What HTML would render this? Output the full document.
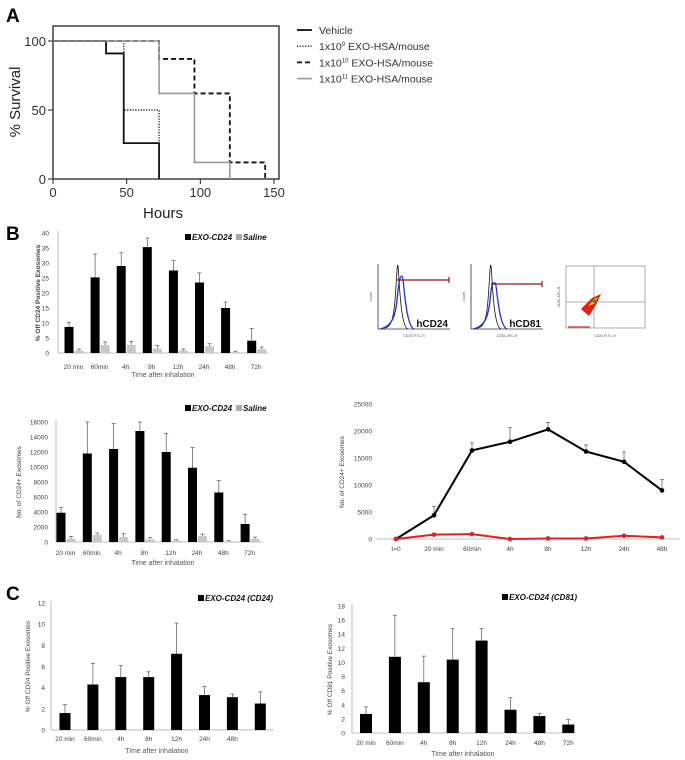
<!DOCTYPE html>
<html><head><meta charset="utf-8"><style>
html,body{margin:0;padding:0;background:#fff;}
svg{display:block;font-family:"Liberation Sans",sans-serif;}
</style></head><body>
<svg id="fig" width="685" height="760" viewBox="0 0 685 760" xmlns="http://www.w3.org/2000/svg">
<text x="6" y="22" font-size="19" font-weight="bold">A</text>
<text x="6" y="240" font-size="19" font-weight="bold">B</text>
<text x="6" y="600" font-size="19" font-weight="bold">C</text>
<g id="gA"></g>
<g id="gB1"></g>
<g id="gB2"></g>
<g id="gB3"></g>
<g id="gC1"></g>
<g id="gC2"></g>
<g id="gFlow"></g>
</svg>
<script>
// Panel A survival data
const survVehicleT = [0,36,48,72];
const survVehicleV = [100,91,26,0];
const surv9T = [0,48,72];
const surv9V = [100,50,0];
const surv10T = [0,72,96,120,144];
const surv10V = [100,87,62,12,0];
const surv11T = [0,72,96,120];
const surv11V = [100,62,12,0];
const survTicksX = [0,50,100,150];
const survTicksY = [0,50,100];

// Panel B charts
const timeCats8 = ["20 min","60min","4h","8h","12h","24h","48h","72h"];
const b1Exo = [8.7,25.2,29,35.3,27.5,23.5,15,4.1];
const b1ExoErr = [1.5,7.8,4.4,3,3.3,3.2,2,4.1];
const b1Sal = [0.8,2.7,2.7,1.5,0.8,2.3,0.3,1.3];
const b1SalErr = [0.5,1,1.2,1,0.5,0.8,0.3,0.7];
const b1Ticks = [0,5,10,15,20,25,30,35,40];
const b2Exo = [3900,11800,12400,14800,12000,9900,6600,2400];
const b2ExoErr = [700,4200,3400,1200,2500,2700,1600,1300];
const b2Sal = [450,950,650,350,200,800,100,400];
const b2SalErr = [300,250,450,250,100,250,100,250];
const b2Ticks = [0,2000,4000,6000,8000,10000,12000,14000,16000];
const lineCats = ["t=0","20 min","60min","4h","8h","12h","24h","48h"];
const lineExo = [0,4400,16400,18000,20300,16200,14300,9000];
const lineExoErr = [0,1600,1400,2600,1300,1200,1800,2000];
const lineSal = [0,800,900,0,100,100,600,300];
const lineTicks = [0,5000,10000,15000,20000,25000];
// Panel C
const c1Cats = ["20 min","60min","4h","8h","12h","24h","48h",""];
const c1Vals = [1.6,4.3,5,5,7.2,3.3,3.1,2.5];
const c1Err = [0.8,2,1.1,0.5,2.9,0.8,0.3,1.1];
const c1Ticks = [0,2,4,6,8,10,12];
const c2Vals = [2.7,10.8,7.2,10.4,13.1,3.3,2.4,1.2];
const c2Err = [1,5.9,3.7,4.4,1.7,1.7,0.4,0.7];
const c2Ticks = [0,2,4,6,8,10,12,14,16,18];

const NS="http://www.w3.org/2000/svg";
function mk(parent,tag,attrs,text){const e=document.createElementNS(NS,tag);for(const k in attrs)e.setAttribute(k,attrs[k]);if(text!==undefined)e.textContent=text;parent.appendChild(e);return e;}

// ---------- Panel A ----------
(function(){
 const g=document.getElementById('gA');
 const x=v=>53+v*(274-53)/150, y=v=>179-v*(179-41)/100;
 mk(g,'rect',{x:53,y:26,width:226,height:153,fill:'none',stroke:'#222','stroke-width':1.3});
 survTicksX.forEach(t=>{mk(g,'line',{x1:x(t),x2:x(t),y1:179,y2:184,stroke:'#222'});
  const e=mk(g,'text',{x:x(t),y:197,'font-size':13,'text-anchor':'middle',fill:'#333'},t);
  });
 survTicksY.forEach(t=>{mk(g,'line',{x1:48,x2:53,y1:y(t),y2:y(t),stroke:'#222'});
  const e=mk(g,'text',{x:46,y:y(t)+5,'font-size':13,'text-anchor':'end',fill:'#333'},t);
  });
 const xt=mk(g,'text',{x:163,y:218,'font-size':15,'text-anchor':'middle',fill:'#222'},'Hours');
 
 const yt=mk(g,'text',{x:0,y:0,'font-size':15,'text-anchor':'middle',fill:'#222',transform:'translate(20,102) rotate(-90)'},'% Survival');
 
 const series=[[survVehicleT,survVehicleV,'#111','',1.8,'Vehicle',''],[surv9T,surv9V,'#222','1.2,1.5',1.4,'1x10','9'],[surv10T,surv10V,'#111','5,3',1.8,'1x10','10'],[surv11T,surv11V,'#999','',1.6,'1x10','11']];
 series.forEach((s,i)=>{const T=s[0],V=s[1];let d='M'+x(T[0])+','+y(V[0]);
  for(let k=1;k<T.length;k++){d+=' H'+x(T[k])+' V'+y(V[k]);}
  const p=mk(g,'path',{d:d,fill:'none',stroke:s[2],'stroke-width':s[4],'stroke-dasharray':s[3]});
  
  const ly=30+i*16.2;
  mk(g,'line',{x1:297,x2:312,y1:ly,y2:ly,stroke:s[2],'stroke-width':s[4],'stroke-dasharray':s[3]});
  const t=mk(g,'text',{x:319,y:ly+4,'font-size':10.5,fill:'#333'});
  
  t.appendChild(document.createTextNode(s[5]));
  if(s[6]){mk(t,'tspan',{'font-size':6,dy:-4},s[6]);mk(t,'tspan',{dy:4},' EXO-HSA/mouse');}
 });
})();

// ---------- generic bar chart ----------
function barChart(g,o){
 const y=v=>o.y0-v*(o.y0-o.yTop)/o.yMax;
 mk(g,'line',{x1:o.ax,x2:o.ax,y1:o.yTop-2,y2:o.y0,stroke:'#aaa','stroke-width':0.8});
 mk(g,'line',{x1:o.ax,x2:o.xEnd,y1:o.y0,y2:o.y0,stroke:'#aaa','stroke-width':0.8});
 o.ticks.forEach(t=>{const e=mk(g,'text',{x:o.tx,y:y(t)+2.5,'font-size':o.fs,'text-anchor':'end',fill:'#444'},t);
  });
 o.cats.forEach((c,i)=>{const cx=o.c0+i*o.sp;
  const e=mk(g,'text',{x:cx+(o.labOff||0),y:o.labY,'font-size':o.fs,'text-anchor':'middle',fill:'#444'},c);
  });
 o.series.forEach(s=>{s.vals.forEach((v,i)=>{const cx=o.c0+i*o.sp+s.off;
  const top=y(v+s.err[i]);
  mk(g,'line',{x1:cx,x2:cx,y1:top,y2:y(v),stroke:s.errCol||'#555','stroke-width':0.7});
  mk(g,'line',{x1:cx-2,x2:cx+2,y1:top,y2:top,stroke:s.errCol||'#555','stroke-width':0.7});
  const r=mk(g,'rect',{x:cx-s.w/2,y:y(v),width:s.w,height:o.y0-y(v),fill:s.col});
  });});
 if(o.xlab){const e=mk(g,'text',{x:o.xlabX,y:o.xlabY,'font-size':o.fs+0.5,'text-anchor':'middle',fill:'#555'},o.xlab);
  }
 const yt=mk(g,'text',{x:0,y:0,'font-size':o.fs,'text-anchor':'middle',fill:'#444','font-weight':o.ylabBold?'bold':'normal',transform:'translate('+o.ylabX+','+(o.yTop+o.y0)/2+') rotate(-90)'},o.ylab);
 
 o.legend.forEach(l=>{mk(g,'rect',{x:l.x,y:l.y-6,width:6,height:6,fill:l.col});
  const e=mk(g,'text',{x:l.x+7,y:l.y,'font-size':o.fs+1.5,'font-weight':'bold','font-style':'italic',fill:'#111'},l.t);
  });
}

barChart(document.getElementById('gB1'),{y0:353,yTop:233,yMax:40,ax:58,xEnd:268,tx:49,fs:6.5,c0:69,sp:26.1,labOff:4.5,labY:369,
 cats:timeCats8,ticks:b1Ticks,series:[{vals:b1Exo,err:b1ExoErr,col:'#000',w:9,off:0},{vals:b1Sal,err:b1SalErr,col:'#c8c8c8',w:9,off:10}],
 xlab:'Time after inhalation',xlabX:163,xlabY:377,ylab:'% Off CD24 Positive Exosomes',ylabX:40,ylabBold:true,
 legend:[{x:185,y:240,col:'#000',t:'EXO-CD24'},{x:236,y:240,col:'#aaa',t:'Saline'}]});

barChart(document.getElementById('gB2'),{y0:542,yTop:422,yMax:16000,ax:56,xEnd:262,tx:48,fs:6.5,c0:61,sp:26.3,labOff:4.5,labY:555,
 cats:timeCats8,ticks:b2Ticks,series:[{vals:b2Exo,err:b2ExoErr,col:'#000',w:9,off:0},{vals:b2Sal,err:b2SalErr,col:'#c8c8c8',w:9,off:10}],
 xlab:'Time after inhalation',xlabX:163,xlabY:565,ylab:'No. of CD24+ Exosomes',ylabX:21,
 legend:[{x:185,y:411,col:'#000',t:'EXO-CD24'},{x:236,y:411,col:'#aaa',t:'Saline'}]});

barChart(document.getElementById('gC1'),{y0:730,yTop:603,yMax:12,ax:51,xEnd:274,tx:45,fs:6.5,c0:65,sp:27.9,labY:741,
 cats:c1Cats,ticks:c1Ticks,series:[{vals:c1Vals,err:c1Err,col:'#000',w:11,off:0}],
 xlab:'Time after inhalation',xlabX:157,xlabY:753,ylab:'% Off CD24  Positive Exosomes',ylabX:30,
 legend:[{x:198,y:601,col:'#000',t:'EXO-CD24 (CD24)'}]});

barChart(document.getElementById('gC2'),{y0:733,yTop:606,yMax:18,ax:352,xEnd:574,tx:345,fs:6.5,c0:366,sp:28.9,labY:745,
 cats:timeCats8,ticks:c2Ticks,series:[{vals:c2Vals,err:c2Err,col:'#000',w:12,off:0}],
 xlab:'Time after inhalation',xlabX:463,xlabY:756,ylab:'% Off CD81 Positive Exosomes',ylabX:332,
 legend:[{x:502,y:600,col:'#000',t:'EXO-CD24 (CD81)'}]});

// ---------- line chart ----------
(function(){
 const g=document.getElementById('gB3');
 const x=i=>396+i*38, y=v=>539-v*(539-404)/25000;
 mk(g,'line',{x1:377,x2:680,y1:539,y2:539,stroke:'#aaa','stroke-width':0.8});
 lineTicks.forEach(t=>{const e=mk(g,'text',{x:372,y:y(t)+2.5,'font-size':6.5,'text-anchor':'end',fill:'#444'},t);
  });
 lineCats.forEach((c,i)=>{const e=mk(g,'text',{x:x(i),y:551,'font-size':6.5,'text-anchor':'middle',fill:'#444'},c);
  });
 const yt=mk(g,'text',{x:0,y:0,'font-size':6.5,'text-anchor':'middle',fill:'#444',transform:'translate(344,472) rotate(-90)'},'No. of CD24+ Exosomes');
 
 lineExo.forEach((v,i)=>{if(lineExoErr[i]>0){mk(g,'line',{x1:x(i),x2:x(i),y1:y(v+lineExoErr[i]),y2:y(v),stroke:'#555','stroke-width':0.7});
  mk(g,'line',{x1:x(i)-2,x2:x(i)+2,y1:y(v+lineExoErr[i]),y2:y(v+lineExoErr[i]),stroke:'#555','stroke-width':0.7});}});
 const p1=mk(g,'polyline',{points:lineExo.map((v,i)=>x(i)+','+y(v)).join(' '),fill:'none',stroke:'#000','stroke-width':2});
 
 const p2=mk(g,'polyline',{points:lineSal.map((v,i)=>x(i)+','+y(v)).join(' '),fill:'none',stroke:'#e02020','stroke-width':2});
 
 lineExo.forEach((v,i)=>{const c=mk(g,'circle',{cx:x(i),cy:y(v),r:2.3,fill:'#000'});
  });
 lineSal.forEach((v,i)=>{const c=mk(g,'circle',{cx:x(i),cy:y(v),r:2.3,fill:'#e02020'});
  });
})();

// ---------- flow panels ----------
(function(){
 const g=document.getElementById('gFlow');
 function hist(x0,lab,peakB,gateY,gateX0){
  mk(g,'polyline',{points:x0+',264 '+x0+',329 '+(x0+72)+',329',fill:'none',stroke:'#333','stroke-width':0.8});
  mk(g,'path',{d:'M'+(x0+2)+',329 C'+(x0+12)+',328 '+(x0+15)+',325 '+(x0+17)+',300 S'+(x0+19)+',262 '+(x0+20)+',266 S'+(x0+22)+',328 '+(x0+30)+',329',fill:'none',stroke:'#111','stroke-width':0.8});
  mk(g,'path',{d:'M'+(x0+2)+',329 C'+(x0+12)+',327 '+(x0+17)+',320 '+(x0+19)+',300 S'+(x0+22)+','+peakB+' '+(x0+24)+','+peakB+' S'+(x0+27)+',325 '+(x0+36)+',329',fill:'none',stroke:'#2233cc','stroke-width':1.3});
  mk(g,'line',{x1:gateX0,x2:x0+71,y1:gateY,y2:gateY,stroke:'#8b1a1a','stroke-width':1.2});
  mk(g,'line',{x1:x0+71,x2:x0+71,y1:gateY-3,y2:gateY+3,stroke:'#8b1a1a','stroke-width':1.2});
  const t=mk(g,'text',{x:x0+70,y:327,'font-size':10,'font-weight':'bold','text-anchor':'end',fill:'#111'},lab);
  
  mk(g,'text',{x:x0+36,y:337,'font-size':3.5,'text-anchor':'middle',fill:'#555'},lab==='hCD24'?'CD24 FITC-H':'CD81 APC-H');
  mk(g,'text',{x:x0-6,y:297,'font-size':3.5,'text-anchor':'middle',fill:'#555',transform:'rotate(-90 '+(x0-6)+' 297)'},'Count');
 }
 hist(378,'hCD24',276,280,397);
 hist(471,'hCD81',283,284,491);
 mk(g,'rect',{x:566,y:266,width:79,height:62,fill:'none',stroke:'#999','stroke-width':0.8});
 mk(g,'line',{x1:594,x2:594,y1:266,y2:328,stroke:'#999','stroke-width':0.8});
 mk(g,'line',{x1:566,x2:645,y1:302,y2:302,stroke:'#999','stroke-width':0.8});
 mk(g,'polygon',{points:'581,309 592,298 601,294 596,305 589,316',fill:'#e02010'});
 mk(g,'polygon',{points:'588,306 594,299 598,297 594,304',fill:'#f0c020'});
 mk(g,'circle',{cx:594,cy:301,r:1.8,fill:'#2a8a6a'});
 mk(g,'line',{x1:568,x2:590,y1:327,y2:327,stroke:'#c33','stroke-width':1.2});
 mk(g,'text',{x:605,y:337,'font-size':3.5,'text-anchor':'middle',fill:'#555'},'CD24 FITC-H');
 mk(g,'text',{x:560,y:297,'font-size':3.5,'text-anchor':'middle',fill:'#555',transform:'rotate(-90 560 297)'},'CD81 APC-H');
})();
</script>
</body></html>
